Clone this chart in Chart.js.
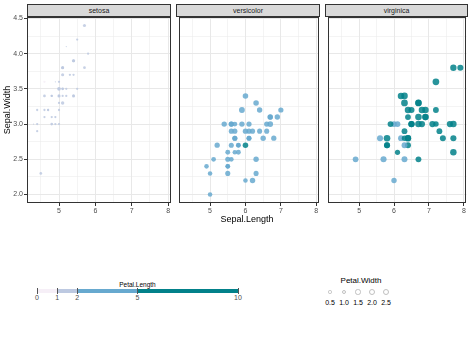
<!DOCTYPE html>
<html><head><meta charset="utf-8">
<script src="https://cdn.jsdelivr.net/npm/chart.js@4"></script>
<style>
body{margin:0;background:#fff;width:474px;height:355px;position:relative;overflow:hidden;font-family:"Liberation Sans",Arial,sans-serif;}
canvas{position:absolute;top:0;}
.strip{position:absolute;top:4px;height:13px;background:#d9d9d9;border:1px solid #333;box-sizing:border-box;font-size:7px;color:#1a1a1a;text-align:center;line-height:11px;}
.t{position:absolute;white-space:nowrap;}
</style></head><body>
<script>
// ---- data (iris) ----
const species = ['setosa','versicolor','virginica'];
const setosaSL = [5.1,4.9,4.7,4.6,5.0,5.4,4.6,5.0,4.4,4.9,5.4,4.8,4.8,4.3,5.8,5.7,5.4,5.1,5.7,5.1,5.4,5.1,4.6,5.1,4.8,5.0,5.0,5.2,5.2,4.7,4.8,5.4,5.2,5.5,4.9,5.0,5.5,4.9,4.4,5.1,5.0,4.5,4.4,5.0,5.1,4.8,5.1,4.6,5.3,5.0];
const setosaSW = [3.5,3.0,3.2,3.1,3.6,3.9,3.4,3.4,2.9,3.1,3.7,3.4,3.0,3.0,4.0,4.4,3.9,3.5,3.8,3.8,3.4,3.7,3.6,3.3,3.4,3.0,3.4,3.5,3.4,3.2,3.1,3.4,4.1,4.2,3.1,3.2,3.5,3.6,3.0,3.4,3.5,2.3,3.2,3.5,3.8,3.0,3.8,3.2,3.7,3.3];
const setosaPL = [1.4,1.4,1.3,1.5,1.4,1.7,1.4,1.5,1.4,1.5,1.5,1.6,1.4,1.1,1.2,1.5,1.3,1.4,1.7,1.5,1.7,1.5,1.0,1.7,1.9,1.6,1.6,1.5,1.4,1.6,1.6,1.5,1.5,1.4,1.5,1.2,1.3,1.4,1.3,1.5,1.3,1.3,1.3,1.6,1.9,1.4,1.6,1.4,1.5,1.4];
const setosaPW = [0.2,0.2,0.2,0.2,0.2,0.4,0.3,0.2,0.2,0.1,0.2,0.2,0.1,0.1,0.2,0.4,0.4,0.3,0.3,0.3,0.2,0.4,0.2,0.5,0.2,0.2,0.4,0.2,0.2,0.2,0.2,0.4,0.1,0.2,0.2,0.2,0.2,0.1,0.2,0.2,0.3,0.3,0.2,0.6,0.4,0.3,0.2,0.2,0.2,0.2];
const versicolorSL = [7.0,6.4,6.9,5.5,6.5,5.7,6.3,4.9,6.6,5.2,5.0,5.9,6.0,6.1,5.6,6.7,5.6,5.8,6.2,5.6,5.9,6.1,6.3,6.1,6.4,6.6,6.8,6.7,6.0,5.7,5.5,5.5,5.8,6.0,5.4,6.0,6.7,6.3,5.6,5.5,5.5,6.1,5.8,5.0,5.6,5.7,5.7,6.2,5.1,5.7];
const versicolorSW = [3.2,3.2,3.1,2.3,2.8,2.8,3.3,2.4,2.9,2.7,2.0,3.0,2.2,2.9,2.9,3.1,3.0,2.7,2.2,2.5,3.2,2.8,2.5,2.8,2.9,3.0,2.8,3.0,2.9,2.6,2.4,2.4,2.7,2.7,3.0,3.4,3.1,2.3,3.0,2.5,2.6,3.0,2.6,2.3,2.7,3.0,2.9,2.9,2.5,2.8];
const versicolorPL = [4.7,4.5,4.9,4.0,4.6,4.5,4.7,3.3,4.6,3.9,3.5,4.2,4.0,4.7,3.6,4.4,4.5,4.1,4.5,3.9,4.8,4.0,4.9,4.7,4.3,4.4,4.8,5.0,4.5,3.5,3.8,3.7,3.9,5.1,4.5,4.5,4.7,4.4,4.1,4.0,4.4,4.6,4.0,3.3,4.2,4.2,4.2,4.3,3.0,4.1];
const versicolorPW = [1.4,1.5,1.5,1.3,1.5,1.3,1.6,1.0,1.3,1.4,1.0,1.5,1.0,1.4,1.3,1.4,1.5,1.0,1.5,1.1,1.8,1.3,1.5,1.2,1.3,1.4,1.4,1.7,1.5,1.0,1.1,1.0,1.2,1.6,1.5,1.6,1.5,1.3,1.3,1.3,1.2,1.4,1.2,1.0,1.3,1.2,1.3,1.3,1.1,1.3];
const virginicaSL = [6.3,5.8,7.1,6.3,6.5,7.6,4.9,7.3,6.7,7.2,6.5,6.4,6.8,5.7,5.8,6.4,6.5,7.7,7.7,6.0,6.9,5.6,7.7,6.3,6.7,7.2,6.2,6.1,6.4,7.2,7.4,7.9,6.4,6.3,6.1,7.7,6.3,6.4,6.0,6.9,6.7,6.9,5.8,6.8,6.7,6.7,6.3,6.5,6.2,5.9];
const virginicaSW = [3.3,2.7,3.0,2.9,3.0,3.0,2.5,2.9,2.5,3.6,3.2,2.7,3.0,2.5,2.8,3.2,3.0,3.8,2.6,2.2,3.2,2.8,2.8,2.7,3.3,3.2,2.8,3.0,2.8,3.0,2.8,3.8,2.8,2.8,2.6,3.0,3.4,3.1,3.0,3.1,3.1,3.1,2.7,3.2,3.3,3.0,2.5,3.0,3.4,3.0];
const virginicaPL = [6.0,5.1,5.9,5.6,5.8,6.6,4.5,6.3,5.8,6.1,5.1,5.3,5.5,5.0,5.1,5.3,5.5,6.7,6.9,5.0,5.7,4.9,6.7,4.9,5.7,6.0,4.8,4.9,5.6,5.8,6.1,6.4,5.6,5.1,5.6,6.1,5.6,5.5,4.8,5.4,5.6,5.1,5.1,5.9,5.7,5.2,5.0,5.2,5.4,5.1];
const virginicaPW = [2.5,1.9,2.1,1.8,2.2,2.1,1.7,1.8,1.8,2.5,2.0,1.9,2.1,2.0,2.4,2.3,1.8,2.2,2.3,1.5,2.3,2.0,2.0,1.8,2.1,1.8,1.8,1.8,2.1,1.6,1.9,2.0,2.2,1.5,1.4,2.3,2.4,1.8,1.8,2.1,2.4,2.3,1.9,2.3,2.5,2.3,1.9,2.0,2.3,1.8];

const xTicks = [5,6,7,8];
const xMinor = [4.5,5.5,6.5,7.5];
const yTicks = [2.0,2.5,3.0,3.5,4.0,4.5];
const yMinor = [2.25,2.75,3.25,3.75,4.25];
const colorBreaks = [0,1,2,5,10];
const binColors = ['#f6eff7','#bdc9e1','#67a9cf','#02818a'];
const sizeBreaks = [0.5,1.0,1.5,2.0,2.5];

const dataBySpecies = {
  setosa:[setosaSL,setosaSW,setosaPL,setosaPW],
  versicolor:[versicolorSL,versicolorSW,versicolorPL,versicolorPW],
  virginica:[virginicaSL,virginicaSW,virginicaPL,virginicaPW]
};

// ---- style mappings ----
const pwMin = 0.1, pwMax = 2.5;
function sizeOf(pw){ return 0.56*(1+5*Math.sqrt((pw-pwMin)/(pwMax-pwMin))); }
function colorOf(pl){
  for(let i=0;i<binColors.length;i++){ if(pl<=colorBreaks[i+1]) return binColors[i]; }
  return binColors[binColors.length-1];
}
function withAlpha(hex,a){
  const n=parseInt(hex.slice(1),16);
  return `rgba(${n>>16},${(n>>8)&255},${n&255},${a})`;
}

const panels = [
  {left:0, width:173, yw:27, plotLeft:27, plotW:144},
  {left:176, width:146, yw:0, plotLeft:176, plotW:144},
  {left:325, width:145, yw:0, plotLeft:325, plotW:143}
];
const PLOT_TOP=17, PLOT_BOTTOM=203, CH=230;

const borderPlugin = {
  id:'panelBorder',
  afterDraw(chart){
    const a=chart.chartArea, c=chart.ctx;
    c.save(); c.strokeStyle='#333'; c.lineWidth=1;
    c.strokeRect(Math.round(a.left)+0.5, Math.round(a.top)+0.5, Math.round(a.right-a.left)-1, Math.round(a.bottom-a.top)-1);
    c.restore();
  }
};

species.forEach((sp,i)=>{
  const p = panels[i];
  const cv = document.createElement('canvas');
  cv.width=p.width; cv.height=CH; cv.style.left=p.left+'px';
  document.body.appendChild(cv);
  const strip = document.createElement('div');
  strip.className='strip'; strip.textContent=sp;
  strip.style.left=p.plotLeft+'px'; strip.style.width=p.plotW+'px';
  document.body.appendChild(strip);

  const [sl,sw,pl,pw] = dataBySpecies[sp];
  const pts = sl.map((x,k)=>({x, y:sw[k]}));
  const isMajorX = v => xTicks.includes(v);
  const isMajorY = v => yTicks.some(t=>Math.abs(t-v)<1e-9);

  new Chart(cv,{
    type:'scatter',
    data:{datasets:[{
      data:pts,
      pointRadius: ctx => sizeOf(pw[ctx.dataIndex]),
      pointHoverRadius: ctx => sizeOf(pw[ctx.dataIndex]),
      pointBackgroundColor: ctx => withAlpha(colorOf(pl[ctx.dataIndex]),0.85),
      pointBorderWidth:0,
      pointBorderColor:'rgba(0,0,0,0)'
    }]},
    options:{
      responsive:false, animation:false,
      layout:{padding:{top:PLOT_TOP,left:0,right:p.width-(p.plotLeft-p.left)-p.plotW,bottom:0}},
      plugins:{legend:{display:false},tooltip:{enabled:false}},
      scales:{
        x:{
          type:'linear', min:4.12, max:8.08,
          afterBuildTicks: s=>{ s.ticks = xMinor.concat(xTicks).sort((a,b)=>a-b).map(v=>({value:v})); },
          afterFit: s=>{ s.height = CH-PLOT_BOTTOM; },
          ticks:{autoSkip:false,maxRotation:0,padding:1,color:'#4d4d4d',font:{family:'Liberation Sans',size:7},
            callback:v=> isMajorX(v)? String(v):''},
          grid:{color:'#e8e8e8', lineWidth:c=> c.tick && isMajorX(c.tick.value)?1:0.5,
            tickLength:3, tickColor:c=> c.tick && isMajorX(c.tick.value)?'#333':'rgba(0,0,0,0)', tickWidth:1},
          border:{display:false}
        },
        y:{
          type:'linear', min:1.88, max:4.52,
          afterBuildTicks: s=>{ s.ticks = yMinor.concat(yTicks).sort((a,b)=>a-b).map(v=>({value:v})); },
          afterFit: s=>{ s.width = p.yw; },
          ticks:{display:i===0,autoSkip:false,padding:1,color:'#4d4d4d',font:{family:'Liberation Sans',size:7},
            callback:v=> isMajorY(v)? v.toFixed(1):''},
          grid:{color:'#e8e8e8', lineWidth:c=> c.tick && isMajorY(c.tick.value)?1:0.5,
            drawTicks:i===0, tickLength:3, tickColor:c=> c.tick && isMajorY(c.tick.value)?'#333':'rgba(0,0,0,0)', tickWidth:1},
          border:{display:false}
        }
      }
    },
    plugins:[borderPlugin]
  });
});

// axis titles
function addText(txt,css){
  const d=document.createElement('div'); d.className='t'; d.textContent=txt;
  Object.assign(d.style,css); document.body.appendChild(d); return d;
}
addText('Sepal.Length',{left:'197px',width:'100px',textAlign:'center',top:'213px',fontSize:'9px',lineHeight:'12px',color:'#000'});
addText('Sepal.Width',{left:'-43px',width:'100px',textAlign:'center',top:'104px',height:'12px',fontSize:'9px',lineHeight:'12px',color:'#000',transform:'rotate(-90deg)'});

// colour-steps legend
const barL=37, barW=201, barT=289, barH=4;
addText('Petal.Length',{left:(barL+barW/2-40)+'px',width:'80px',textAlign:'center',top:'281px',fontSize:'6.5px',color:'#000'});
const maxB = colorBreaks[colorBreaks.length-1];
for(let k=0;k<binColors.length;k++){
  const d=document.createElement('div');
  const x0=barL+colorBreaks[k]/maxB*barW, x1=barL+colorBreaks[k+1]/maxB*barW;
  Object.assign(d.style,{position:'absolute',left:x0+'px',width:(x1-x0)+'px',top:barT+'px',height:barH+'px',background:binColors[k]});
  document.body.appendChild(d);
}
colorBreaks.forEach(b=>{
  const x=barL+b/maxB*barW;
  const tk=document.createElement('div');
  Object.assign(tk.style,{position:'absolute',left:(x-0.5)+'px',width:'1px',top:(barT-1)+'px',height:'6px',background:'#555'});
  document.body.appendChild(tk);
  addText(String(b),{left:(x-10)+'px',width:'20px',textAlign:'center',top:'294px',fontSize:'7px',color:'#4d4d4d'});
});

// size legend
addText('Petal.Width',{left:'330px',width:'62px',textAlign:'center',top:'276px',fontSize:'8px',color:'#000'});
const sizeX=[330,344,358,372,386];
sizeBreaks.forEach((b,k)=>{
  const r=sizeOf(b);
  const c=document.createElement('div');
  Object.assign(c.style,{position:'absolute',left:(sizeX[k]-r)+'px',top:(292-r)+'px',width:(2*r)+'px',height:(2*r)+'px',borderRadius:'50%',border:'0.8px solid #c0c0c0',boxSizing:'border-box',background:'#fff'});
  document.body.appendChild(c);
  addText(b.toFixed(1),{left:(sizeX[k]-10)+'px',width:'20px',textAlign:'center',top:'299px',fontSize:'7px',color:'#000'});
});
</script>
</body></html>
